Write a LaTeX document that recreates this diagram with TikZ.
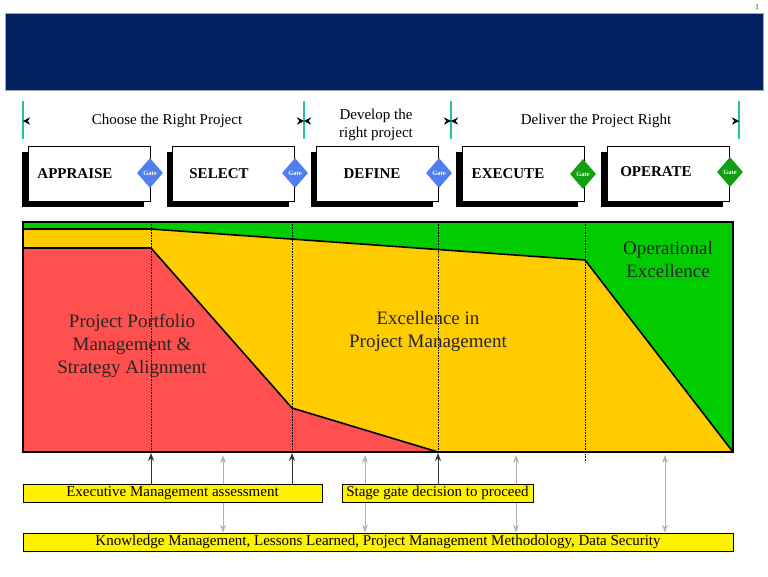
\documentclass[tikz,border=0pt]{standalone}
\usepackage{fontspec}
\setmainfont{Liberation Serif}
\usetikzlibrary{arrows.meta,shapes.geometric,shadows}

\definecolor{navy}{RGB}{0,32,96}
\definecolor{pmred}{RGB}{255,80,80}
\definecolor{pmyellow}{RGB}{255,204,0}
\definecolor{pmgreen}{RGB}{0,204,0}
\definecolor{gateblue}{RGB}{79,127,239}
\definecolor{gategreen}{RGB}{16,160,16}
\definecolor{phaseteal}{RGB}{32,192,160}

\tikzset{
  stagebox/.style={rectangle,draw=black,line width=0.8pt,fill=white,minimum width=122pt,minimum height=55pt,
    drop shadow={shadow xshift=-6pt,shadow yshift=-6pt,opacity=1,fill=black}},
  stagetxt/.style={font=\fontsize{15}{16}\selectfont\bfseries},
  gate/.style={diamond,inner sep=0pt,minimum width=26pt,minimum height=30pt,text=white,font=\fontsize{6.5}{6.5}\selectfont\bfseries},
  phaseline/.style={phaseteal,line width=1.6pt},
  phasearrow/.style={white,{Stealth[black,length=7pt,width=7pt]}-{Stealth[black,length=7pt,width=7pt]}},
  phasetxt/.style={font=\fontsize{15}{18}\selectfont,align=center},
  region/.style={font=\fontsize{19}{23}\selectfont,align=center,text=black!85},
  ybox/.style={rectangle,draw=black,line width=0.8pt,fill=yellow,inner sep=0pt,minimum height=18pt,font=\fontsize{15}{15}\selectfont},
  uparrow/.style={black!80,line width=0.8pt,-{Stealth[length=8pt,width=6pt]}},
  grayarrow/.style={black!30,line width=1pt,{Stealth[length=8pt,width=6pt]}-{Stealth[length=8pt,width=6pt]}}
}

\begin{document}
\begin{tikzpicture}[x=1pt,y=-1pt]
  \useasboundingbox (0,0) rectangle (768,576);
  \filldraw[draw=black!35,fill=navy] (5,13) rectangle (763,90);
  \node[text=green!45!black,font=\fontsize{8}{8}\selectfont] (pg) at (757,7) {1};

  \coordinate (m1) at (23,121);
  \coordinate (m2) at (304,121);
  \coordinate (m3) at (451,121);
  \coordinate (m4) at (739,121);
  \foreach \x in {23,304,451,739}
    \draw[phaseline] (\x,101) -- (\x,139);
  \draw[phasearrow] (m1) -- (m2);
  \draw[phasearrow] (m2) -- (m3);
  \draw[phasearrow] (m3) -- (m4);
  \node[phasetxt] (ph1) at (167,121) {Choose the Right Project};
  \node[phasetxt] (ph2) at (376,125) {Develop the\\right project};
  \node[phasetxt] (ph3) at (596,121) {Deliver the Project Right};

  \node[stagebox] (ap) at (89,173.5) {};
  \node[stagebox] (se) at (233.5,173.5) {};
  \node[stagebox] (de) at (377.5,173.5) {};
  \node[stagebox] (ex) at (523,173.5) {};
  \node[stagebox] (op) at (668,173.5) {};
  \node[stagetxt] (apt) at (75,174) {APPRAISE};
  \node[stagetxt] (set) at (219,174) {SELECT};
  \node[stagetxt] (det) at (372,174) {DEFINE};
  \node[stagetxt] (ext) at (508,174) {EXECUTE};
  \node[stagetxt] (opt) at (656,172) {OPERATE};
  \node[gate,fill=gateblue] (g1) at (150,173) {Gate};
  \node[gate,fill=gateblue] (g2) at (295,173) {Gate};
  \node[gate,fill=gateblue] (g3) at (439,173) {Gate};
  \node[gate,fill=gategreen] (g4) at (583,174) {Gate};
  \node[gate,fill=gategreen] (g5) at (730,172) {Gate};

  \fill[pmgreen] (23,222) rectangle (733,452);
  \fill[pmyellow] (23,229) -- (151,229) -- (585,260) -- (733,452) -- (23,452) -- cycle;
  \fill[pmred] (23,248) -- (151,248) -- (292,408) -- (438,452) -- (23,452) -- cycle;
  \draw[line width=1.6pt] (23,229) -- (151,229) -- (585,260) -- (733,452);
  \draw[line width=1.6pt] (23,248) -- (151,248) -- (292,408) -- (438,452);
  \draw[densely dotted,line width=0.6pt] (151,222) -- (151,452);
  \draw[densely dotted,line width=0.6pt] (292,222) -- (292,452);
  \draw[densely dotted,line width=0.6pt] (438,222) -- (438,452);
  \draw[densely dotted,line width=0.6pt] (585,222) -- (585,462);
  \draw[line width=2pt] (23,222) rectangle (733,452);
  \node[region] (ppm) at (132,346) {Project Portfolio\\Management \&\\Strategy Alignment};
  \node[region] (epm) at (428,331) {Excellence in\\Project Management};
  \node[region] (opx) at (668,259) {Operational\\Excellence};

  \coordinate (d1) at (151,453);
  \coordinate (d2) at (292,453);
  \coordinate (d3) at (438,453);
  \coordinate (k1) at (223,455);
  \coordinate (k2) at (365,455);
  \coordinate (k3) at (516,455);
  \coordinate (k4) at (665,455);

  \node[ybox,minimum width=299pt] (kb) at (378,542) {\hspace*{0pt}};
  \draw[grayarrow] (k1) -- (kb.north -| k1);
  \draw[grayarrow] (k2) -- (kb.north -| k2);
  \draw[grayarrow] (k3) -- (kb.north -| k3);
  \draw[grayarrow] (k4) -- (kb.north -| k4);
  \node[ybox,minimum width=710pt] (kb) at (378,542) {Knowledge Management, Lessons Learned, Project Management Methodology, Data Security};
  \node[ybox,minimum width=299pt] (em) at (172.5,493) {Executive Management assessment};
  \node[ybox,minimum width=191pt] (sg) at (437.5,493) {Stage gate decision to proceed};
  \draw[uparrow] (em.north -| d1) -- (d1);
  \draw[uparrow] (em.north -| d2) -- (d2);
  \draw[uparrow] (sg.north -| d3) -- (d3);
\end{tikzpicture}
\end{document}
